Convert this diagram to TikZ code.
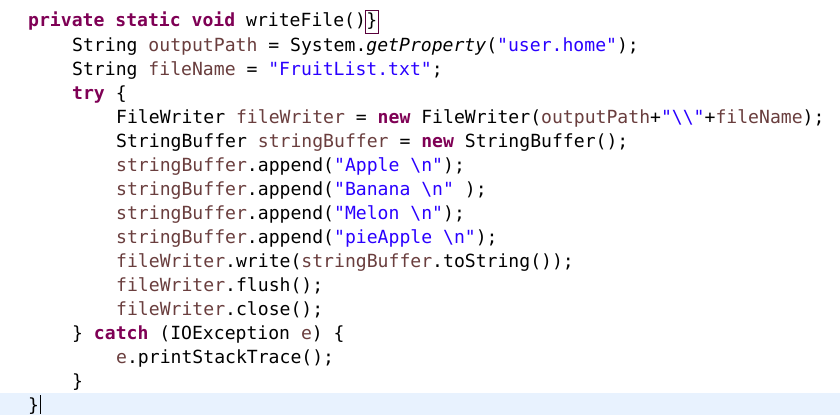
\documentclass[tikz,border=0pt]{standalone}
\usepackage{fontspec}
\setmonofont{DejaVu Sans Mono}
\definecolor{kw}{HTML}{7F0055}
\definecolor{vr}{HTML}{6A3E3E}
\definecolor{sr}{HTML}{2A00FF}
\definecolor{hl}{HTML}{E8F2FE}
\newcommand{\jkw}[1]{\textcolor{kw}{\bfseries #1}}
\newcommand{\jvar}[1]{\textcolor{vr}{#1}}
\newcommand{\jstr}[1]{\textcolor{sr}{#1}}
\newcommand{\jit}[1]{\textit{#1}}
\tikzset{code/.style={anchor=base west,inner sep=0pt,font=\ttfamily\fontsize{18.1}{20}\selectfont}}
\begin{document}
\begin{tikzpicture}[x=1pt,y=1pt]
\useasboundingbox (0,0) rectangle (840,-415);
\fill[white] (0,0) rectangle (840,-415);
\fill[hl] (0,-393) rectangle (840,-415);
\node[code] (l1) at (28,-27) {\jkw{private static void} writeFile() };
\node[code] (br) at (l1.base east) {\}};
\draw[kw!70!black,line width=0.8pt] ([xshift=-1pt]br.west|-0,-10) rectangle ([xshift=1pt]br.east|-0,-33);
\node[code] (l2) at (72,-51) {String \jvar{outputPath} = System.\jit{getProperty}(\jstr{"user.home"});};
\node[code] (l3) at (72,-75) {String \jvar{fileName} = \jstr{"FruitList.txt"};};
\node[code] (l4) at (72,-99) {\jkw{try} \{};
\node[code] (l5) at (116,-123) {FileWriter \jvar{fileWriter} = \jkw{new} FileWriter(\jvar{outputPath}+\jstr{"\textbackslash\textbackslash"}+\jvar{fileName});};
\node[code] (l6) at (116,-147) {StringBuffer \jvar{stringBuffer} = \jkw{new} StringBuffer();};
\node[code] (l7) at (116,-171) {\jvar{stringBuffer}.append(\jstr{"Apple \textbackslash n"});};
\node[code] (l8) at (116,-195) {\jvar{stringBuffer}.append(\jstr{"Banana \textbackslash n"} );};
\node[code] (l9) at (116,-219) {\jvar{stringBuffer}.append(\jstr{"Melon \textbackslash n"});};
\node[code] (l10) at (116,-243) {\jvar{stringBuffer}.append(\jstr{"pieApple \textbackslash n"});};
\node[code] (l11) at (116,-267) {\jvar{fileWriter}.write(\jvar{stringBuffer}.toString());};
\node[code] (l12) at (116,-291) {\jvar{fileWriter}.flush();};
\node[code] (l13) at (116,-315) {\jvar{fileWriter}.close();};
\node[code] (l14) at (72,-339) {\} \jkw{catch} (IOException \jvar{e}) \{};
\node[code] (l15) at (116,-363) {\jvar{e}.printStackTrace();};
\node[code] (l16) at (72,-387) {\}};
\node[code] (l17) at (28,-411) {\}};
\draw[black,line width=1.3pt] ([xshift=1pt]l17.east|-0,-395) -- ([xshift=1pt]l17.east|-0,-414);
\end{tikzpicture}
\end{document}
